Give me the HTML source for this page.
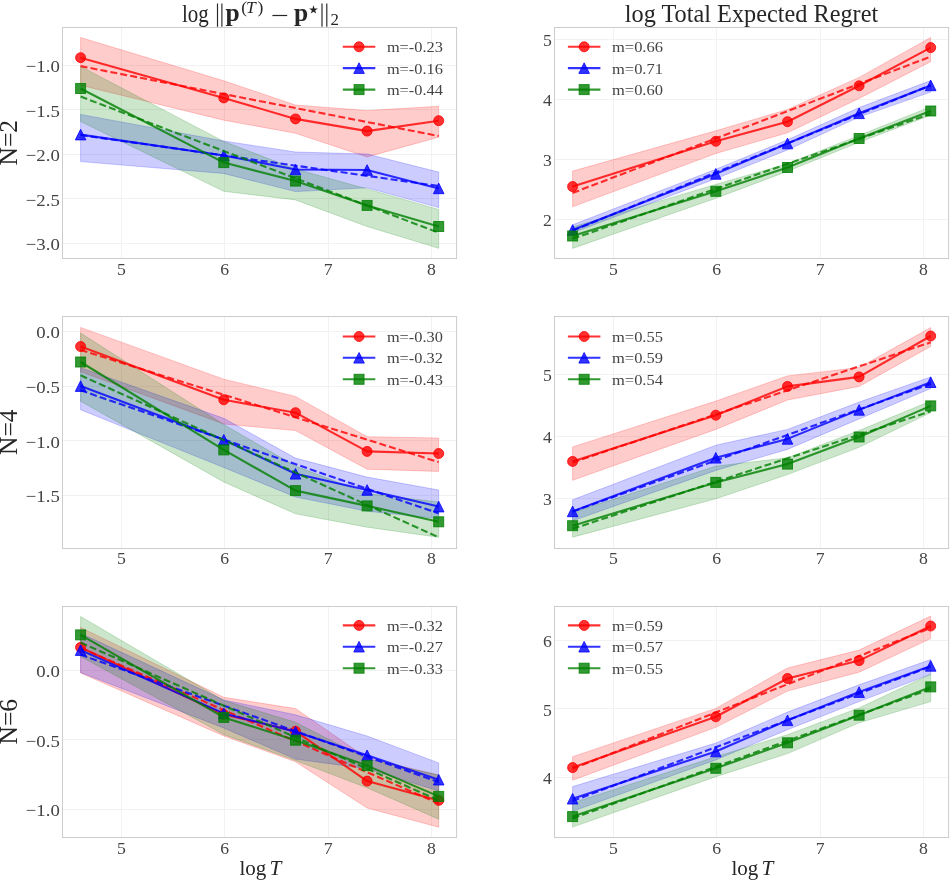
<!DOCTYPE html><html><head><meta charset="utf-8"><style>html,body{margin:0;padding:0;background:#fff;}svg{display:block;will-change:transform;}text{font-family:"Liberation Serif", serif;fill:#262626;}</style></head><body>
<svg width="952" height="880" viewBox="0 0 952 880">
<rect width="952" height="880" fill="#fff"/>
<line x1="121.5" y1="27.5" x2="121.5" y2="258.5" stroke="#f2f2f2" stroke-width="1"/>
<line x1="224.5" y1="27.5" x2="224.5" y2="258.5" stroke="#f2f2f2" stroke-width="1"/>
<line x1="328.5" y1="27.5" x2="328.5" y2="258.5" stroke="#f2f2f2" stroke-width="1"/>
<line x1="431.5" y1="27.5" x2="431.5" y2="258.5" stroke="#f2f2f2" stroke-width="1"/>
<line x1="62.5" y1="65.5" x2="456.6" y2="65.5" stroke="#f2f2f2" stroke-width="1"/>
<line x1="62.5" y1="109.5" x2="456.6" y2="109.5" stroke="#f2f2f2" stroke-width="1"/>
<line x1="62.5" y1="154.5" x2="456.6" y2="154.5" stroke="#f2f2f2" stroke-width="1"/>
<line x1="62.5" y1="198.5" x2="456.6" y2="198.5" stroke="#f2f2f2" stroke-width="1"/>
<line x1="62.5" y1="243.5" x2="456.6" y2="243.5" stroke="#f2f2f2" stroke-width="1"/>
<clipPath id="clip00"><rect x="62.5" y="27.5" width="394.1" height="231.0"/></clipPath>
<g clip-path="url(#clip00)">
<polygon points="80.60,37.50 223.80,80.80 295.50,105.00 367.10,110.50 438.70,106.30 438.70,137.20 367.10,156.90 295.50,133.30 223.80,120.20 80.60,85.30" fill="#ff0000" fill-opacity="0.2" stroke="#ff0000" stroke-opacity="0.2" stroke-width="1"/>
<polygon points="80.60,114.40 223.80,141.00 295.50,152.00 367.10,154.00 438.70,172.10 438.70,207.60 367.10,187.80 295.50,191.60 223.80,173.50 80.60,161.60" fill="#0000ff" fill-opacity="0.2" stroke="#0000ff" stroke-opacity="0.2" stroke-width="1"/>
<polygon points="80.60,66.40 223.80,141.50 295.50,169.00 367.10,188.90 438.70,209.40 438.70,248.30 367.10,226.50 295.50,199.90 223.80,191.30 80.60,121.50" fill="#008000" fill-opacity="0.2" stroke="#008000" stroke-opacity="0.2" stroke-width="1"/>
<polyline points="80.60,57.70 223.80,97.90 295.50,118.90 367.10,131.10 438.70,120.70" fill="none" stroke="#ff0000" stroke-opacity="0.8" stroke-width="2.1" stroke-linejoin="round"/>
<circle cx="80.60" cy="57.70" r="5.00" fill="#ff0000" fill-opacity="0.8" stroke="#ff0000" stroke-opacity="0.8" stroke-width="1.0"/>
<circle cx="223.80" cy="97.90" r="5.00" fill="#ff0000" fill-opacity="0.8" stroke="#ff0000" stroke-opacity="0.8" stroke-width="1.0"/>
<circle cx="295.50" cy="118.90" r="5.00" fill="#ff0000" fill-opacity="0.8" stroke="#ff0000" stroke-opacity="0.8" stroke-width="1.0"/>
<circle cx="367.10" cy="131.10" r="5.00" fill="#ff0000" fill-opacity="0.8" stroke="#ff0000" stroke-opacity="0.8" stroke-width="1.0"/>
<circle cx="438.70" cy="120.70" r="5.00" fill="#ff0000" fill-opacity="0.8" stroke="#ff0000" stroke-opacity="0.8" stroke-width="1.0"/>
<line x1="80.60" y1="66.14" x2="438.70" y2="135.99" stroke="#ff0000" stroke-opacity="0.8" stroke-width="2.1" stroke-dasharray="7.0 3.1"/>
<polyline points="80.60,134.60 223.80,155.50 295.50,169.50 367.10,170.00 438.70,188.40" fill="none" stroke="#0000ff" stroke-opacity="0.8" stroke-width="2.1" stroke-linejoin="round"/>
<polygon points="80.60,129.30 75.30,139.90 85.90,139.90" fill="#0000ff" fill-opacity="0.8" stroke="#0000ff" stroke-opacity="0.8" stroke-width="1.0" stroke-linejoin="miter"/>
<polygon points="223.80,150.20 218.50,160.80 229.10,160.80" fill="#0000ff" fill-opacity="0.8" stroke="#0000ff" stroke-opacity="0.8" stroke-width="1.0" stroke-linejoin="miter"/>
<polygon points="295.50,164.20 290.20,174.80 300.80,174.80" fill="#0000ff" fill-opacity="0.8" stroke="#0000ff" stroke-opacity="0.8" stroke-width="1.0" stroke-linejoin="miter"/>
<polygon points="367.10,164.70 361.80,175.30 372.40,175.30" fill="#0000ff" fill-opacity="0.8" stroke="#0000ff" stroke-opacity="0.8" stroke-width="1.0" stroke-linejoin="miter"/>
<polygon points="438.70,183.10 433.40,193.70 444.00,193.70" fill="#0000ff" fill-opacity="0.8" stroke="#0000ff" stroke-opacity="0.8" stroke-width="1.0" stroke-linejoin="miter"/>
<line x1="80.60" y1="135.01" x2="438.70" y2="186.06" stroke="#0000ff" stroke-opacity="0.8" stroke-width="2.1" stroke-dasharray="7.0 3.1"/>
<polyline points="80.60,88.50 223.80,162.60 295.50,181.10 367.10,205.40 438.70,226.50" fill="none" stroke="#008000" stroke-opacity="0.8" stroke-width="2.1" stroke-linejoin="round"/>
<rect x="75.60" y="83.50" width="10.00" height="10.00" fill="#008000" fill-opacity="0.8" stroke="#008000" stroke-opacity="0.8" stroke-width="1.0"/>
<rect x="218.80" y="157.60" width="10.00" height="10.00" fill="#008000" fill-opacity="0.8" stroke="#008000" stroke-opacity="0.8" stroke-width="1.0"/>
<rect x="290.50" y="176.10" width="10.00" height="10.00" fill="#008000" fill-opacity="0.8" stroke="#008000" stroke-opacity="0.8" stroke-width="1.0"/>
<rect x="362.10" y="200.40" width="10.00" height="10.00" fill="#008000" fill-opacity="0.8" stroke="#008000" stroke-opacity="0.8" stroke-width="1.0"/>
<rect x="433.70" y="221.50" width="10.00" height="10.00" fill="#008000" fill-opacity="0.8" stroke="#008000" stroke-opacity="0.8" stroke-width="1.0"/>
<line x1="80.60" y1="96.56" x2="438.70" y2="232.74" stroke="#008000" stroke-opacity="0.8" stroke-width="2.1" stroke-dasharray="7.0 3.1"/>
</g>
<rect x="62.5" y="27.5" width="394.1" height="231.0" fill="none" stroke="#cccccc" stroke-width="1"/>
<text x="121.40" y="274.80" font-size="17.7" text-anchor="middle" fill="#444444" style="fill:#444444">5</text>
<text x="224.70" y="274.80" font-size="17.7" text-anchor="middle" fill="#444444" style="fill:#444444">6</text>
<text x="328.10" y="274.80" font-size="17.7" text-anchor="middle" fill="#444444" style="fill:#444444">7</text>
<text x="431.40" y="274.80" font-size="17.7" text-anchor="middle" fill="#444444" style="fill:#444444">8</text>
<text x="59.80" y="72.15" font-size="17.7" text-anchor="end" style="fill:#444444"  textLength="34.03" lengthAdjust="spacingAndGlyphs">−1.0</text>
<text x="59.80" y="116.65" font-size="17.7" text-anchor="end" style="fill:#444444"  textLength="34.03" lengthAdjust="spacingAndGlyphs">−1.5</text>
<text x="59.80" y="161.15" font-size="17.7" text-anchor="end" style="fill:#444444"  textLength="34.03" lengthAdjust="spacingAndGlyphs">−2.0</text>
<text x="59.80" y="205.65" font-size="17.7" text-anchor="end" style="fill:#444444"  textLength="34.03" lengthAdjust="spacingAndGlyphs">−2.5</text>
<text x="59.80" y="250.15" font-size="17.7" text-anchor="end" style="fill:#444444"  textLength="34.03" lengthAdjust="spacingAndGlyphs">−3.0</text>
<line x1="342.80" y1="46.80" x2="375.30" y2="46.80" stroke="#ff0000" stroke-opacity="0.8" stroke-width="2.1"/>
<circle cx="359.05" cy="46.80" r="5.00" fill="#ff0000" fill-opacity="0.8" stroke="#ff0000" stroke-opacity="0.8" stroke-width="1.0"/>
<text x="386.90" y="52.30" font-size="15" style="fill:#444444" textLength="56.0" lengthAdjust="spacingAndGlyphs">m=-0.23</text>
<line x1="342.80" y1="68.10" x2="375.30" y2="68.10" stroke="#0000ff" stroke-opacity="0.8" stroke-width="2.1"/>
<polygon points="359.05,62.80 353.75,73.40 364.35,73.40" fill="#0000ff" fill-opacity="0.8" stroke="#0000ff" stroke-opacity="0.8" stroke-width="1.0" stroke-linejoin="miter"/>
<text x="386.90" y="73.60" font-size="15" style="fill:#444444" textLength="56.0" lengthAdjust="spacingAndGlyphs">m=-0.16</text>
<line x1="342.80" y1="89.60" x2="375.30" y2="89.60" stroke="#008000" stroke-opacity="0.8" stroke-width="2.1"/>
<rect x="354.05" y="84.60" width="10.00" height="10.00" fill="#008000" fill-opacity="0.8" stroke="#008000" stroke-opacity="0.8" stroke-width="1.0"/>
<text x="386.90" y="95.10" font-size="15" style="fill:#444444" textLength="56.0" lengthAdjust="spacingAndGlyphs">m=-0.44</text>
<line x1="613.5" y1="27.5" x2="613.5" y2="258.5" stroke="#f2f2f2" stroke-width="1"/>
<line x1="716.5" y1="27.5" x2="716.5" y2="258.5" stroke="#f2f2f2" stroke-width="1"/>
<line x1="820.5" y1="27.5" x2="820.5" y2="258.5" stroke="#f2f2f2" stroke-width="1"/>
<line x1="923.5" y1="27.5" x2="923.5" y2="258.5" stroke="#f2f2f2" stroke-width="1"/>
<line x1="554.5" y1="219.5" x2="948.6" y2="219.5" stroke="#f2f2f2" stroke-width="1"/>
<line x1="554.5" y1="159.5" x2="948.6" y2="159.5" stroke="#f2f2f2" stroke-width="1"/>
<line x1="554.5" y1="99.5" x2="948.6" y2="99.5" stroke="#f2f2f2" stroke-width="1"/>
<line x1="554.5" y1="39.5" x2="948.6" y2="39.5" stroke="#f2f2f2" stroke-width="1"/>
<clipPath id="clip01"><rect x="554.5" y="27.5" width="394.1" height="231.0"/></clipPath>
<g clip-path="url(#clip01)">
<polygon points="572.60,171.10 715.80,130.80 787.50,109.50 859.10,77.40 930.70,37.50 930.70,61.70 859.10,98.40 787.50,132.80 715.80,153.50 572.60,206.80" fill="#ff0000" fill-opacity="0.2" stroke="#ff0000" stroke-opacity="0.2" stroke-width="1"/>
<polygon points="572.60,224.80 715.80,169.30 787.50,139.80 859.10,107.60 930.70,80.60 930.70,92.10 859.10,117.10 787.50,149.90 715.80,178.70 572.60,232.80" fill="#0000ff" fill-opacity="0.2" stroke="#0000ff" stroke-opacity="0.2" stroke-width="1"/>
<polygon points="572.60,227.00 715.80,184.40 787.50,163.70 859.10,135.40 930.70,106.80 930.70,115.20 859.10,142.30 787.50,171.30 715.80,198.30 572.60,248.40" fill="#008000" fill-opacity="0.2" stroke="#008000" stroke-opacity="0.2" stroke-width="1"/>
<polyline points="572.60,186.60 715.80,141.30 787.50,121.70 859.10,85.80 930.70,47.60" fill="none" stroke="#ff0000" stroke-opacity="0.8" stroke-width="2.1" stroke-linejoin="round"/>
<circle cx="572.60" cy="186.60" r="5.00" fill="#ff0000" fill-opacity="0.8" stroke="#ff0000" stroke-opacity="0.8" stroke-width="1.0"/>
<circle cx="715.80" cy="141.30" r="5.00" fill="#ff0000" fill-opacity="0.8" stroke="#ff0000" stroke-opacity="0.8" stroke-width="1.0"/>
<circle cx="787.50" cy="121.70" r="5.00" fill="#ff0000" fill-opacity="0.8" stroke="#ff0000" stroke-opacity="0.8" stroke-width="1.0"/>
<circle cx="859.10" cy="85.80" r="5.00" fill="#ff0000" fill-opacity="0.8" stroke="#ff0000" stroke-opacity="0.8" stroke-width="1.0"/>
<circle cx="930.70" cy="47.60" r="5.00" fill="#ff0000" fill-opacity="0.8" stroke="#ff0000" stroke-opacity="0.8" stroke-width="1.0"/>
<line x1="572.60" y1="192.93" x2="930.70" y2="56.63" stroke="#ff0000" stroke-opacity="0.8" stroke-width="2.1" stroke-dasharray="7.0 3.1"/>
<polyline points="572.60,230.00 715.80,173.90 787.50,143.50 859.10,113.30 930.70,85.40" fill="none" stroke="#0000ff" stroke-opacity="0.8" stroke-width="2.1" stroke-linejoin="round"/>
<polygon points="572.60,224.70 567.30,235.30 577.90,235.30" fill="#0000ff" fill-opacity="0.8" stroke="#0000ff" stroke-opacity="0.8" stroke-width="1.0" stroke-linejoin="miter"/>
<polygon points="715.80,168.60 710.50,179.20 721.10,179.20" fill="#0000ff" fill-opacity="0.8" stroke="#0000ff" stroke-opacity="0.8" stroke-width="1.0" stroke-linejoin="miter"/>
<polygon points="787.50,138.20 782.20,148.80 792.80,148.80" fill="#0000ff" fill-opacity="0.8" stroke="#0000ff" stroke-opacity="0.8" stroke-width="1.0" stroke-linejoin="miter"/>
<polygon points="859.10,108.00 853.80,118.60 864.40,118.60" fill="#0000ff" fill-opacity="0.8" stroke="#0000ff" stroke-opacity="0.8" stroke-width="1.0" stroke-linejoin="miter"/>
<polygon points="930.70,80.10 925.40,90.70 936.00,90.70" fill="#0000ff" fill-opacity="0.8" stroke="#0000ff" stroke-opacity="0.8" stroke-width="1.0" stroke-linejoin="miter"/>
<line x1="572.60" y1="230.68" x2="930.70" y2="85.22" stroke="#0000ff" stroke-opacity="0.8" stroke-width="2.1" stroke-dasharray="7.0 3.1"/>
<polyline points="572.60,236.00 715.80,191.30 787.50,167.50 859.10,138.50 930.70,111.00" fill="none" stroke="#008000" stroke-opacity="0.8" stroke-width="2.1" stroke-linejoin="round"/>
<rect x="567.60" y="231.00" width="10.00" height="10.00" fill="#008000" fill-opacity="0.8" stroke="#008000" stroke-opacity="0.8" stroke-width="1.0"/>
<rect x="710.80" y="186.30" width="10.00" height="10.00" fill="#008000" fill-opacity="0.8" stroke="#008000" stroke-opacity="0.8" stroke-width="1.0"/>
<rect x="782.50" y="162.50" width="10.00" height="10.00" fill="#008000" fill-opacity="0.8" stroke="#008000" stroke-opacity="0.8" stroke-width="1.0"/>
<rect x="854.10" y="133.50" width="10.00" height="10.00" fill="#008000" fill-opacity="0.8" stroke="#008000" stroke-opacity="0.8" stroke-width="1.0"/>
<rect x="925.70" y="106.00" width="10.00" height="10.00" fill="#008000" fill-opacity="0.8" stroke="#008000" stroke-opacity="0.8" stroke-width="1.0"/>
<line x1="572.60" y1="238.85" x2="930.70" y2="113.87" stroke="#008000" stroke-opacity="0.8" stroke-width="2.1" stroke-dasharray="7.0 3.1"/>
</g>
<rect x="554.5" y="27.5" width="394.1" height="231.0" fill="none" stroke="#cccccc" stroke-width="1"/>
<text x="613.40" y="274.80" font-size="17.7" text-anchor="middle" fill="#444444" style="fill:#444444">5</text>
<text x="716.70" y="274.80" font-size="17.7" text-anchor="middle" fill="#444444" style="fill:#444444">6</text>
<text x="820.10" y="274.80" font-size="17.7" text-anchor="middle" fill="#444444" style="fill:#444444">7</text>
<text x="923.40" y="274.80" font-size="17.7" text-anchor="middle" fill="#444444" style="fill:#444444">8</text>
<text x="551.80" y="226.00" font-size="17.7" text-anchor="end" style="fill:#444444" >2</text>
<text x="551.80" y="166.00" font-size="17.7" text-anchor="end" style="fill:#444444" >3</text>
<text x="551.80" y="106.00" font-size="17.7" text-anchor="end" style="fill:#444444" >4</text>
<text x="551.80" y="46.00" font-size="17.7" text-anchor="end" style="fill:#444444" >5</text>
<line x1="567.90" y1="46.80" x2="600.40" y2="46.80" stroke="#ff0000" stroke-opacity="0.8" stroke-width="2.1"/>
<circle cx="584.15" cy="46.80" r="5.00" fill="#ff0000" fill-opacity="0.8" stroke="#ff0000" stroke-opacity="0.8" stroke-width="1.0"/>
<text x="612.00" y="52.30" font-size="15" style="fill:#444444" textLength="51.0" lengthAdjust="spacingAndGlyphs">m=0.66</text>
<line x1="567.90" y1="68.10" x2="600.40" y2="68.10" stroke="#0000ff" stroke-opacity="0.8" stroke-width="2.1"/>
<polygon points="584.15,62.80 578.85,73.40 589.45,73.40" fill="#0000ff" fill-opacity="0.8" stroke="#0000ff" stroke-opacity="0.8" stroke-width="1.0" stroke-linejoin="miter"/>
<text x="612.00" y="73.60" font-size="15" style="fill:#444444" textLength="51.0" lengthAdjust="spacingAndGlyphs">m=0.71</text>
<line x1="567.90" y1="89.60" x2="600.40" y2="89.60" stroke="#008000" stroke-opacity="0.8" stroke-width="2.1"/>
<rect x="579.15" y="84.60" width="10.00" height="10.00" fill="#008000" fill-opacity="0.8" stroke="#008000" stroke-opacity="0.8" stroke-width="1.0"/>
<text x="612.00" y="95.10" font-size="15" style="fill:#444444" textLength="51.0" lengthAdjust="spacingAndGlyphs">m=0.60</text>
<line x1="121.5" y1="316.5" x2="121.5" y2="548.5" stroke="#f2f2f2" stroke-width="1"/>
<line x1="224.5" y1="316.5" x2="224.5" y2="548.5" stroke="#f2f2f2" stroke-width="1"/>
<line x1="328.5" y1="316.5" x2="328.5" y2="548.5" stroke="#f2f2f2" stroke-width="1"/>
<line x1="431.5" y1="316.5" x2="431.5" y2="548.5" stroke="#f2f2f2" stroke-width="1"/>
<line x1="62.5" y1="331.5" x2="456.6" y2="331.5" stroke="#f2f2f2" stroke-width="1"/>
<line x1="62.5" y1="386.5" x2="456.6" y2="386.5" stroke="#f2f2f2" stroke-width="1"/>
<line x1="62.5" y1="440.5" x2="456.6" y2="440.5" stroke="#f2f2f2" stroke-width="1"/>
<line x1="62.5" y1="495.5" x2="456.6" y2="495.5" stroke="#f2f2f2" stroke-width="1"/>
<clipPath id="clip10"><rect x="62.5" y="316.5" width="394.1" height="232.0"/></clipPath>
<g clip-path="url(#clip10)">
<polygon points="80.60,327.40 223.80,379.20 295.50,396.40 367.10,436.70 438.70,438.00 438.70,471.40 367.10,469.20 295.50,430.60 223.80,424.00 80.60,371.70" fill="#ff0000" fill-opacity="0.2" stroke="#ff0000" stroke-opacity="0.2" stroke-width="1"/>
<polygon points="80.60,367.70 223.80,418.30 295.50,458.10 367.10,477.10 438.70,490.00 438.70,518.60 367.10,511.20 295.50,497.00 223.80,467.50 80.60,409.80" fill="#0000ff" fill-opacity="0.2" stroke="#0000ff" stroke-opacity="0.2" stroke-width="1"/>
<polygon points="80.60,333.00 223.80,424.50 295.50,466.00 367.10,493.60 438.70,502.00 438.70,537.30 367.10,527.20 295.50,513.80 223.80,482.00 80.60,401.20" fill="#008000" fill-opacity="0.2" stroke="#008000" stroke-opacity="0.2" stroke-width="1"/>
<polyline points="80.60,346.50 223.80,399.80 295.50,412.70 367.10,451.40 438.70,453.50" fill="none" stroke="#ff0000" stroke-opacity="0.8" stroke-width="2.1" stroke-linejoin="round"/>
<circle cx="80.60" cy="346.50" r="5.00" fill="#ff0000" fill-opacity="0.8" stroke="#ff0000" stroke-opacity="0.8" stroke-width="1.0"/>
<circle cx="223.80" cy="399.80" r="5.00" fill="#ff0000" fill-opacity="0.8" stroke="#ff0000" stroke-opacity="0.8" stroke-width="1.0"/>
<circle cx="295.50" cy="412.70" r="5.00" fill="#ff0000" fill-opacity="0.8" stroke="#ff0000" stroke-opacity="0.8" stroke-width="1.0"/>
<circle cx="367.10" cy="451.40" r="5.00" fill="#ff0000" fill-opacity="0.8" stroke="#ff0000" stroke-opacity="0.8" stroke-width="1.0"/>
<circle cx="438.70" cy="453.50" r="5.00" fill="#ff0000" fill-opacity="0.8" stroke="#ff0000" stroke-opacity="0.8" stroke-width="1.0"/>
<line x1="80.60" y1="349.99" x2="438.70" y2="462.11" stroke="#ff0000" stroke-opacity="0.8" stroke-width="2.1" stroke-dasharray="7.0 3.1"/>
<polyline points="80.60,386.10 223.80,439.80 295.50,473.80 367.10,490.00 438.70,506.60" fill="none" stroke="#0000ff" stroke-opacity="0.8" stroke-width="2.1" stroke-linejoin="round"/>
<polygon points="80.60,380.80 75.30,391.40 85.90,391.40" fill="#0000ff" fill-opacity="0.8" stroke="#0000ff" stroke-opacity="0.8" stroke-width="1.0" stroke-linejoin="miter"/>
<polygon points="223.80,434.50 218.50,445.10 229.10,445.10" fill="#0000ff" fill-opacity="0.8" stroke="#0000ff" stroke-opacity="0.8" stroke-width="1.0" stroke-linejoin="miter"/>
<polygon points="295.50,468.50 290.20,479.10 300.80,479.10" fill="#0000ff" fill-opacity="0.8" stroke="#0000ff" stroke-opacity="0.8" stroke-width="1.0" stroke-linejoin="miter"/>
<polygon points="367.10,484.70 361.80,495.30 372.40,495.30" fill="#0000ff" fill-opacity="0.8" stroke="#0000ff" stroke-opacity="0.8" stroke-width="1.0" stroke-linejoin="miter"/>
<polygon points="438.70,501.30 433.40,511.90 444.00,511.90" fill="#0000ff" fill-opacity="0.8" stroke="#0000ff" stroke-opacity="0.8" stroke-width="1.0" stroke-linejoin="miter"/>
<line x1="80.60" y1="390.33" x2="438.70" y2="513.42" stroke="#0000ff" stroke-opacity="0.8" stroke-width="2.1" stroke-dasharray="7.0 3.1"/>
<polyline points="80.60,362.00 223.80,449.90 295.50,490.60 367.10,505.90 438.70,521.80" fill="none" stroke="#008000" stroke-opacity="0.8" stroke-width="2.1" stroke-linejoin="round"/>
<rect x="75.60" y="357.00" width="10.00" height="10.00" fill="#008000" fill-opacity="0.8" stroke="#008000" stroke-opacity="0.8" stroke-width="1.0"/>
<rect x="218.80" y="444.90" width="10.00" height="10.00" fill="#008000" fill-opacity="0.8" stroke="#008000" stroke-opacity="0.8" stroke-width="1.0"/>
<rect x="290.50" y="485.60" width="10.00" height="10.00" fill="#008000" fill-opacity="0.8" stroke="#008000" stroke-opacity="0.8" stroke-width="1.0"/>
<rect x="362.10" y="500.90" width="10.00" height="10.00" fill="#008000" fill-opacity="0.8" stroke="#008000" stroke-opacity="0.8" stroke-width="1.0"/>
<rect x="433.70" y="516.80" width="10.00" height="10.00" fill="#008000" fill-opacity="0.8" stroke="#008000" stroke-opacity="0.8" stroke-width="1.0"/>
<line x1="80.60" y1="375.30" x2="438.70" y2="537.33" stroke="#008000" stroke-opacity="0.8" stroke-width="2.1" stroke-dasharray="7.0 3.1"/>
</g>
<rect x="62.5" y="316.5" width="394.1" height="232.0" fill="none" stroke="#cccccc" stroke-width="1"/>
<text x="121.40" y="563.80" font-size="17.7" text-anchor="middle" fill="#444444" style="fill:#444444">5</text>
<text x="224.70" y="563.80" font-size="17.7" text-anchor="middle" fill="#444444" style="fill:#444444">6</text>
<text x="328.10" y="563.80" font-size="17.7" text-anchor="middle" fill="#444444" style="fill:#444444">7</text>
<text x="431.40" y="563.80" font-size="17.7" text-anchor="middle" fill="#444444" style="fill:#444444">8</text>
<text x="59.80" y="338.20" font-size="17.7" text-anchor="end" style="fill:#444444"  textLength="23.45" lengthAdjust="spacingAndGlyphs">0.0</text>
<text x="59.80" y="392.85" font-size="17.7" text-anchor="end" style="fill:#444444"  textLength="34.03" lengthAdjust="spacingAndGlyphs">−0.5</text>
<text x="59.80" y="447.50" font-size="17.7" text-anchor="end" style="fill:#444444"  textLength="34.03" lengthAdjust="spacingAndGlyphs">−1.0</text>
<text x="59.80" y="502.15" font-size="17.7" text-anchor="end" style="fill:#444444"  textLength="34.03" lengthAdjust="spacingAndGlyphs">−1.5</text>
<line x1="342.80" y1="336.50" x2="375.30" y2="336.50" stroke="#ff0000" stroke-opacity="0.8" stroke-width="2.1"/>
<circle cx="359.05" cy="336.50" r="5.00" fill="#ff0000" fill-opacity="0.8" stroke="#ff0000" stroke-opacity="0.8" stroke-width="1.0"/>
<text x="386.90" y="342.00" font-size="15" style="fill:#444444" textLength="56.0" lengthAdjust="spacingAndGlyphs">m=-0.30</text>
<line x1="342.80" y1="357.80" x2="375.30" y2="357.80" stroke="#0000ff" stroke-opacity="0.8" stroke-width="2.1"/>
<polygon points="359.05,352.50 353.75,363.10 364.35,363.10" fill="#0000ff" fill-opacity="0.8" stroke="#0000ff" stroke-opacity="0.8" stroke-width="1.0" stroke-linejoin="miter"/>
<text x="386.90" y="363.30" font-size="15" style="fill:#444444" textLength="56.0" lengthAdjust="spacingAndGlyphs">m=-0.32</text>
<line x1="342.80" y1="379.30" x2="375.30" y2="379.30" stroke="#008000" stroke-opacity="0.8" stroke-width="2.1"/>
<rect x="354.05" y="374.30" width="10.00" height="10.00" fill="#008000" fill-opacity="0.8" stroke="#008000" stroke-opacity="0.8" stroke-width="1.0"/>
<text x="386.90" y="384.80" font-size="15" style="fill:#444444" textLength="56.0" lengthAdjust="spacingAndGlyphs">m=-0.43</text>
<line x1="613.5" y1="316.5" x2="613.5" y2="548.5" stroke="#f2f2f2" stroke-width="1"/>
<line x1="716.5" y1="316.5" x2="716.5" y2="548.5" stroke="#f2f2f2" stroke-width="1"/>
<line x1="820.5" y1="316.5" x2="820.5" y2="548.5" stroke="#f2f2f2" stroke-width="1"/>
<line x1="923.5" y1="316.5" x2="923.5" y2="548.5" stroke="#f2f2f2" stroke-width="1"/>
<line x1="554.5" y1="498.5" x2="948.6" y2="498.5" stroke="#f2f2f2" stroke-width="1"/>
<line x1="554.5" y1="436.5" x2="948.6" y2="436.5" stroke="#f2f2f2" stroke-width="1"/>
<line x1="554.5" y1="374.5" x2="948.6" y2="374.5" stroke="#f2f2f2" stroke-width="1"/>
<clipPath id="clip11"><rect x="554.5" y="316.5" width="394.1" height="232.0"/></clipPath>
<g clip-path="url(#clip11)">
<polygon points="572.60,446.90 715.80,401.10 787.50,375.90 859.10,367.50 930.70,327.60 930.70,346.50 859.10,386.40 787.50,400.00 715.80,429.40 572.60,480.30" fill="#ff0000" fill-opacity="0.2" stroke="#ff0000" stroke-opacity="0.2" stroke-width="1"/>
<polygon points="572.60,499.80 715.80,445.20 787.50,429.40 859.10,402.10 930.70,376.90 930.70,388.50 859.10,418.90 787.50,449.40 715.80,470.40 572.60,520.80" fill="#0000ff" fill-opacity="0.2" stroke="#0000ff" stroke-opacity="0.2" stroke-width="1"/>
<polygon points="572.60,512.40 715.80,466.20 787.50,457.80 859.10,430.50 930.70,401.10 930.70,412.60 859.10,447.30 787.50,474.60 715.80,498.80 572.60,537.20" fill="#008000" fill-opacity="0.2" stroke="#008000" stroke-opacity="0.2" stroke-width="1"/>
<polyline points="572.60,461.40 715.80,415.20 787.50,386.40 859.10,376.90 930.70,336.00" fill="none" stroke="#ff0000" stroke-opacity="0.8" stroke-width="2.1" stroke-linejoin="round"/>
<circle cx="572.60" cy="461.40" r="5.00" fill="#ff0000" fill-opacity="0.8" stroke="#ff0000" stroke-opacity="0.8" stroke-width="1.0"/>
<circle cx="715.80" cy="415.20" r="5.00" fill="#ff0000" fill-opacity="0.8" stroke="#ff0000" stroke-opacity="0.8" stroke-width="1.0"/>
<circle cx="787.50" cy="386.40" r="5.00" fill="#ff0000" fill-opacity="0.8" stroke="#ff0000" stroke-opacity="0.8" stroke-width="1.0"/>
<circle cx="859.10" cy="376.90" r="5.00" fill="#ff0000" fill-opacity="0.8" stroke="#ff0000" stroke-opacity="0.8" stroke-width="1.0"/>
<circle cx="930.70" cy="336.00" r="5.00" fill="#ff0000" fill-opacity="0.8" stroke="#ff0000" stroke-opacity="0.8" stroke-width="1.0"/>
<line x1="572.60" y1="462.40" x2="930.70" y2="342.37" stroke="#ff0000" stroke-opacity="0.8" stroke-width="2.1" stroke-dasharray="7.0 3.1"/>
<polyline points="572.60,511.40 715.80,457.80 787.50,438.90 859.10,409.90 930.70,382.20" fill="none" stroke="#0000ff" stroke-opacity="0.8" stroke-width="2.1" stroke-linejoin="round"/>
<polygon points="572.60,506.10 567.30,516.70 577.90,516.70" fill="#0000ff" fill-opacity="0.8" stroke="#0000ff" stroke-opacity="0.8" stroke-width="1.0" stroke-linejoin="miter"/>
<polygon points="715.80,452.50 710.50,463.10 721.10,463.10" fill="#0000ff" fill-opacity="0.8" stroke="#0000ff" stroke-opacity="0.8" stroke-width="1.0" stroke-linejoin="miter"/>
<polygon points="787.50,433.60 782.20,444.20 792.80,444.20" fill="#0000ff" fill-opacity="0.8" stroke="#0000ff" stroke-opacity="0.8" stroke-width="1.0" stroke-linejoin="miter"/>
<polygon points="859.10,404.60 853.80,415.20 864.40,415.20" fill="#0000ff" fill-opacity="0.8" stroke="#0000ff" stroke-opacity="0.8" stroke-width="1.0" stroke-linejoin="miter"/>
<polygon points="930.70,376.90 925.40,387.50 936.00,387.50" fill="#0000ff" fill-opacity="0.8" stroke="#0000ff" stroke-opacity="0.8" stroke-width="1.0" stroke-linejoin="miter"/>
<line x1="572.60" y1="511.49" x2="930.70" y2="383.91" stroke="#0000ff" stroke-opacity="0.8" stroke-width="2.1" stroke-dasharray="7.0 3.1"/>
<polyline points="572.60,525.70 715.80,482.40 787.50,464.10 859.10,437.00 930.70,405.90" fill="none" stroke="#008000" stroke-opacity="0.8" stroke-width="2.1" stroke-linejoin="round"/>
<rect x="567.60" y="520.70" width="10.00" height="10.00" fill="#008000" fill-opacity="0.8" stroke="#008000" stroke-opacity="0.8" stroke-width="1.0"/>
<rect x="710.80" y="477.40" width="10.00" height="10.00" fill="#008000" fill-opacity="0.8" stroke="#008000" stroke-opacity="0.8" stroke-width="1.0"/>
<rect x="782.50" y="459.10" width="10.00" height="10.00" fill="#008000" fill-opacity="0.8" stroke="#008000" stroke-opacity="0.8" stroke-width="1.0"/>
<rect x="854.10" y="432.00" width="10.00" height="10.00" fill="#008000" fill-opacity="0.8" stroke="#008000" stroke-opacity="0.8" stroke-width="1.0"/>
<rect x="925.70" y="400.90" width="10.00" height="10.00" fill="#008000" fill-opacity="0.8" stroke="#008000" stroke-opacity="0.8" stroke-width="1.0"/>
<line x1="572.60" y1="528.79" x2="930.70" y2="411.34" stroke="#008000" stroke-opacity="0.8" stroke-width="2.1" stroke-dasharray="7.0 3.1"/>
</g>
<rect x="554.5" y="316.5" width="394.1" height="232.0" fill="none" stroke="#cccccc" stroke-width="1"/>
<text x="613.40" y="563.80" font-size="17.7" text-anchor="middle" fill="#444444" style="fill:#444444">5</text>
<text x="716.70" y="563.80" font-size="17.7" text-anchor="middle" fill="#444444" style="fill:#444444">6</text>
<text x="820.10" y="563.80" font-size="17.7" text-anchor="middle" fill="#444444" style="fill:#444444">7</text>
<text x="923.40" y="563.80" font-size="17.7" text-anchor="middle" fill="#444444" style="fill:#444444">8</text>
<text x="551.80" y="505.30" font-size="17.7" text-anchor="end" style="fill:#444444" >3</text>
<text x="551.80" y="443.15" font-size="17.7" text-anchor="end" style="fill:#444444" >4</text>
<text x="551.80" y="381.00" font-size="17.7" text-anchor="end" style="fill:#444444" >5</text>
<line x1="567.90" y1="336.50" x2="600.40" y2="336.50" stroke="#ff0000" stroke-opacity="0.8" stroke-width="2.1"/>
<circle cx="584.15" cy="336.50" r="5.00" fill="#ff0000" fill-opacity="0.8" stroke="#ff0000" stroke-opacity="0.8" stroke-width="1.0"/>
<text x="612.00" y="342.00" font-size="15" style="fill:#444444" textLength="51.0" lengthAdjust="spacingAndGlyphs">m=0.55</text>
<line x1="567.90" y1="357.80" x2="600.40" y2="357.80" stroke="#0000ff" stroke-opacity="0.8" stroke-width="2.1"/>
<polygon points="584.15,352.50 578.85,363.10 589.45,363.10" fill="#0000ff" fill-opacity="0.8" stroke="#0000ff" stroke-opacity="0.8" stroke-width="1.0" stroke-linejoin="miter"/>
<text x="612.00" y="363.30" font-size="15" style="fill:#444444" textLength="51.0" lengthAdjust="spacingAndGlyphs">m=0.59</text>
<line x1="567.90" y1="379.30" x2="600.40" y2="379.30" stroke="#008000" stroke-opacity="0.8" stroke-width="2.1"/>
<rect x="579.15" y="374.30" width="10.00" height="10.00" fill="#008000" fill-opacity="0.8" stroke="#008000" stroke-opacity="0.8" stroke-width="1.0"/>
<text x="612.00" y="384.80" font-size="15" style="fill:#444444" textLength="51.0" lengthAdjust="spacingAndGlyphs">m=0.54</text>
<line x1="121.5" y1="606.5" x2="121.5" y2="837.5" stroke="#f2f2f2" stroke-width="1"/>
<line x1="224.5" y1="606.5" x2="224.5" y2="837.5" stroke="#f2f2f2" stroke-width="1"/>
<line x1="328.5" y1="606.5" x2="328.5" y2="837.5" stroke="#f2f2f2" stroke-width="1"/>
<line x1="431.5" y1="606.5" x2="431.5" y2="837.5" stroke="#f2f2f2" stroke-width="1"/>
<line x1="62.5" y1="670.5" x2="456.6" y2="670.5" stroke="#f2f2f2" stroke-width="1"/>
<line x1="62.5" y1="739.5" x2="456.6" y2="739.5" stroke="#f2f2f2" stroke-width="1"/>
<line x1="62.5" y1="809.5" x2="456.6" y2="809.5" stroke="#f2f2f2" stroke-width="1"/>
<clipPath id="clip20"><rect x="62.5" y="606.5" width="394.1" height="231.0"/></clipPath>
<g clip-path="url(#clip20)">
<polygon points="80.60,627.40 223.80,697.30 295.50,708.60 367.10,758.00 438.70,775.00 438.70,827.20 367.10,808.00 295.50,761.80 223.80,735.90 80.60,673.00" fill="#ff0000" fill-opacity="0.2" stroke="#ff0000" stroke-opacity="0.2" stroke-width="1"/>
<polygon points="80.60,633.30 223.80,700.00 295.50,714.80 367.10,736.00 438.70,762.90 438.70,791.00 367.10,768.70 295.50,759.10 223.80,728.00 80.60,672.50" fill="#0000ff" fill-opacity="0.2" stroke="#0000ff" stroke-opacity="0.2" stroke-width="1"/>
<polygon points="80.60,616.50 223.80,700.50 295.50,722.30 367.10,759.00 438.70,775.00 438.70,819.20 367.10,787.80 295.50,760.50 223.80,734.50 80.60,656.50" fill="#008000" fill-opacity="0.2" stroke="#008000" stroke-opacity="0.2" stroke-width="1"/>
<polyline points="80.60,647.40 223.80,714.50 295.50,731.20 367.10,781.10 438.70,800.40" fill="none" stroke="#ff0000" stroke-opacity="0.8" stroke-width="2.1" stroke-linejoin="round"/>
<circle cx="80.60" cy="647.40" r="5.00" fill="#ff0000" fill-opacity="0.8" stroke="#ff0000" stroke-opacity="0.8" stroke-width="1.0"/>
<circle cx="223.80" cy="714.50" r="5.00" fill="#ff0000" fill-opacity="0.8" stroke="#ff0000" stroke-opacity="0.8" stroke-width="1.0"/>
<circle cx="295.50" cy="731.20" r="5.00" fill="#ff0000" fill-opacity="0.8" stroke="#ff0000" stroke-opacity="0.8" stroke-width="1.0"/>
<circle cx="367.10" cy="781.10" r="5.00" fill="#ff0000" fill-opacity="0.8" stroke="#ff0000" stroke-opacity="0.8" stroke-width="1.0"/>
<circle cx="438.70" cy="800.40" r="5.00" fill="#ff0000" fill-opacity="0.8" stroke="#ff0000" stroke-opacity="0.8" stroke-width="1.0"/>
<line x1="80.60" y1="647.87" x2="438.70" y2="803.31" stroke="#ff0000" stroke-opacity="0.8" stroke-width="2.1" stroke-dasharray="7.0 3.1"/>
<polyline points="80.60,650.10 223.80,713.40 295.50,731.80 367.10,755.30 438.70,779.70" fill="none" stroke="#0000ff" stroke-opacity="0.8" stroke-width="2.1" stroke-linejoin="round"/>
<polygon points="80.60,644.80 75.30,655.40 85.90,655.40" fill="#0000ff" fill-opacity="0.8" stroke="#0000ff" stroke-opacity="0.8" stroke-width="1.0" stroke-linejoin="miter"/>
<polygon points="223.80,708.10 218.50,718.70 229.10,718.70" fill="#0000ff" fill-opacity="0.8" stroke="#0000ff" stroke-opacity="0.8" stroke-width="1.0" stroke-linejoin="miter"/>
<polygon points="295.50,726.50 290.20,737.10 300.80,737.10" fill="#0000ff" fill-opacity="0.8" stroke="#0000ff" stroke-opacity="0.8" stroke-width="1.0" stroke-linejoin="miter"/>
<polygon points="367.10,750.00 361.80,760.60 372.40,760.60" fill="#0000ff" fill-opacity="0.8" stroke="#0000ff" stroke-opacity="0.8" stroke-width="1.0" stroke-linejoin="miter"/>
<polygon points="438.70,774.40 433.40,785.00 444.00,785.00" fill="#0000ff" fill-opacity="0.8" stroke="#0000ff" stroke-opacity="0.8" stroke-width="1.0" stroke-linejoin="miter"/>
<line x1="80.60" y1="654.73" x2="438.70" y2="782.10" stroke="#0000ff" stroke-opacity="0.8" stroke-width="2.1" stroke-dasharray="7.0 3.1"/>
<polyline points="80.60,634.90 223.80,717.40 295.50,740.20 367.10,765.60 438.70,796.40" fill="none" stroke="#008000" stroke-opacity="0.8" stroke-width="2.1" stroke-linejoin="round"/>
<rect x="75.60" y="629.90" width="10.00" height="10.00" fill="#008000" fill-opacity="0.8" stroke="#008000" stroke-opacity="0.8" stroke-width="1.0"/>
<rect x="218.80" y="712.40" width="10.00" height="10.00" fill="#008000" fill-opacity="0.8" stroke="#008000" stroke-opacity="0.8" stroke-width="1.0"/>
<rect x="290.50" y="735.20" width="10.00" height="10.00" fill="#008000" fill-opacity="0.8" stroke="#008000" stroke-opacity="0.8" stroke-width="1.0"/>
<rect x="362.10" y="760.60" width="10.00" height="10.00" fill="#008000" fill-opacity="0.8" stroke="#008000" stroke-opacity="0.8" stroke-width="1.0"/>
<rect x="433.70" y="791.40" width="10.00" height="10.00" fill="#008000" fill-opacity="0.8" stroke="#008000" stroke-opacity="0.8" stroke-width="1.0"/>
<line x1="80.60" y1="642.52" x2="438.70" y2="800.34" stroke="#008000" stroke-opacity="0.8" stroke-width="2.1" stroke-dasharray="7.0 3.1"/>
</g>
<rect x="62.5" y="606.5" width="394.1" height="231.0" fill="none" stroke="#cccccc" stroke-width="1"/>
<text x="121.40" y="853.80" font-size="17.7" text-anchor="middle" fill="#444444" style="fill:#444444">5</text>
<text x="224.70" y="853.80" font-size="17.7" text-anchor="middle" fill="#444444" style="fill:#444444">6</text>
<text x="328.10" y="853.80" font-size="17.7" text-anchor="middle" fill="#444444" style="fill:#444444">7</text>
<text x="431.40" y="853.80" font-size="17.7" text-anchor="middle" fill="#444444" style="fill:#444444">8</text>
<text x="59.80" y="677.15" font-size="17.7" text-anchor="end" style="fill:#444444"  textLength="23.45" lengthAdjust="spacingAndGlyphs">0.0</text>
<text x="59.80" y="746.65" font-size="17.7" text-anchor="end" style="fill:#444444"  textLength="34.03" lengthAdjust="spacingAndGlyphs">−0.5</text>
<text x="59.80" y="816.15" font-size="17.7" text-anchor="end" style="fill:#444444"  textLength="34.03" lengthAdjust="spacingAndGlyphs">−1.0</text>
<line x1="342.80" y1="625.40" x2="375.30" y2="625.40" stroke="#ff0000" stroke-opacity="0.8" stroke-width="2.1"/>
<circle cx="359.05" cy="625.40" r="5.00" fill="#ff0000" fill-opacity="0.8" stroke="#ff0000" stroke-opacity="0.8" stroke-width="1.0"/>
<text x="386.90" y="630.90" font-size="15" style="fill:#444444" textLength="56.0" lengthAdjust="spacingAndGlyphs">m=-0.32</text>
<line x1="342.80" y1="646.70" x2="375.30" y2="646.70" stroke="#0000ff" stroke-opacity="0.8" stroke-width="2.1"/>
<polygon points="359.05,641.40 353.75,652.00 364.35,652.00" fill="#0000ff" fill-opacity="0.8" stroke="#0000ff" stroke-opacity="0.8" stroke-width="1.0" stroke-linejoin="miter"/>
<text x="386.90" y="652.20" font-size="15" style="fill:#444444" textLength="56.0" lengthAdjust="spacingAndGlyphs">m=-0.27</text>
<line x1="342.80" y1="668.20" x2="375.30" y2="668.20" stroke="#008000" stroke-opacity="0.8" stroke-width="2.1"/>
<rect x="354.05" y="663.20" width="10.00" height="10.00" fill="#008000" fill-opacity="0.8" stroke="#008000" stroke-opacity="0.8" stroke-width="1.0"/>
<text x="386.90" y="673.70" font-size="15" style="fill:#444444" textLength="56.0" lengthAdjust="spacingAndGlyphs">m=-0.33</text>
<line x1="613.5" y1="606.5" x2="613.5" y2="837.5" stroke="#f2f2f2" stroke-width="1"/>
<line x1="716.5" y1="606.5" x2="716.5" y2="837.5" stroke="#f2f2f2" stroke-width="1"/>
<line x1="820.5" y1="606.5" x2="820.5" y2="837.5" stroke="#f2f2f2" stroke-width="1"/>
<line x1="923.5" y1="606.5" x2="923.5" y2="837.5" stroke="#f2f2f2" stroke-width="1"/>
<line x1="554.5" y1="777.5" x2="948.6" y2="777.5" stroke="#f2f2f2" stroke-width="1"/>
<line x1="554.5" y1="708.5" x2="948.6" y2="708.5" stroke="#f2f2f2" stroke-width="1"/>
<line x1="554.5" y1="640.5" x2="948.6" y2="640.5" stroke="#f2f2f2" stroke-width="1"/>
<clipPath id="clip21"><rect x="554.5" y="606.5" width="394.1" height="231.0"/></clipPath>
<g clip-path="url(#clip21)">
<polygon points="572.60,756.70 715.80,708.40 787.50,668.00 859.10,650.10 930.70,616.10 930.70,638.60 859.10,672.20 787.50,691.10 715.80,727.30 572.60,780.30" fill="#ff0000" fill-opacity="0.2" stroke="#ff0000" stroke-opacity="0.2" stroke-width="1"/>
<polygon points="572.60,786.60 715.80,743.10 787.50,712.10 859.10,684.80 930.70,659.60 930.70,674.30 859.10,701.60 787.50,729.70 715.80,759.90 572.60,811.30" fill="#0000ff" fill-opacity="0.2" stroke="#0000ff" stroke-opacity="0.2" stroke-width="1"/>
<polygon points="572.60,802.90 715.80,756.70 787.50,734.70 859.10,707.90 930.70,674.30 930.70,701.60 859.10,722.80 787.50,753.60 715.80,776.70 572.60,827.10" fill="#008000" fill-opacity="0.2" stroke="#008000" stroke-opacity="0.2" stroke-width="1"/>
<polyline points="572.60,767.60 715.80,716.80 787.50,678.50 859.10,660.60 930.70,626.00" fill="none" stroke="#ff0000" stroke-opacity="0.8" stroke-width="2.1" stroke-linejoin="round"/>
<circle cx="572.60" cy="767.60" r="5.00" fill="#ff0000" fill-opacity="0.8" stroke="#ff0000" stroke-opacity="0.8" stroke-width="1.0"/>
<circle cx="715.80" cy="716.80" r="5.00" fill="#ff0000" fill-opacity="0.8" stroke="#ff0000" stroke-opacity="0.8" stroke-width="1.0"/>
<circle cx="787.50" cy="678.50" r="5.00" fill="#ff0000" fill-opacity="0.8" stroke="#ff0000" stroke-opacity="0.8" stroke-width="1.0"/>
<circle cx="859.10" cy="660.60" r="5.00" fill="#ff0000" fill-opacity="0.8" stroke="#ff0000" stroke-opacity="0.8" stroke-width="1.0"/>
<circle cx="930.70" cy="626.00" r="5.00" fill="#ff0000" fill-opacity="0.8" stroke="#ff0000" stroke-opacity="0.8" stroke-width="1.0"/>
<line x1="572.60" y1="768.81" x2="930.70" y2="627.90" stroke="#ff0000" stroke-opacity="0.8" stroke-width="2.1" stroke-dasharray="7.0 3.1"/>
<polyline points="572.60,798.70 715.80,751.50 787.50,720.30 859.10,692.10 930.70,665.90" fill="none" stroke="#0000ff" stroke-opacity="0.8" stroke-width="2.1" stroke-linejoin="round"/>
<polygon points="572.60,793.40 567.30,804.00 577.90,804.00" fill="#0000ff" fill-opacity="0.8" stroke="#0000ff" stroke-opacity="0.8" stroke-width="1.0" stroke-linejoin="miter"/>
<polygon points="715.80,746.20 710.50,756.80 721.10,756.80" fill="#0000ff" fill-opacity="0.8" stroke="#0000ff" stroke-opacity="0.8" stroke-width="1.0" stroke-linejoin="miter"/>
<polygon points="787.50,715.00 782.20,725.60 792.80,725.60" fill="#0000ff" fill-opacity="0.8" stroke="#0000ff" stroke-opacity="0.8" stroke-width="1.0" stroke-linejoin="miter"/>
<polygon points="859.10,686.80 853.80,697.40 864.40,697.40" fill="#0000ff" fill-opacity="0.8" stroke="#0000ff" stroke-opacity="0.8" stroke-width="1.0" stroke-linejoin="miter"/>
<polygon points="930.70,660.60 925.40,671.20 936.00,671.20" fill="#0000ff" fill-opacity="0.8" stroke="#0000ff" stroke-opacity="0.8" stroke-width="1.0" stroke-linejoin="miter"/>
<line x1="572.60" y1="800.99" x2="930.70" y2="666.54" stroke="#0000ff" stroke-opacity="0.8" stroke-width="2.1" stroke-dasharray="7.0 3.1"/>
<polyline points="572.60,816.60 715.80,768.30 787.50,742.80 859.10,715.20 930.70,686.90" fill="none" stroke="#008000" stroke-opacity="0.8" stroke-width="2.1" stroke-linejoin="round"/>
<rect x="567.60" y="811.60" width="10.00" height="10.00" fill="#008000" fill-opacity="0.8" stroke="#008000" stroke-opacity="0.8" stroke-width="1.0"/>
<rect x="710.80" y="763.30" width="10.00" height="10.00" fill="#008000" fill-opacity="0.8" stroke="#008000" stroke-opacity="0.8" stroke-width="1.0"/>
<rect x="782.50" y="737.80" width="10.00" height="10.00" fill="#008000" fill-opacity="0.8" stroke="#008000" stroke-opacity="0.8" stroke-width="1.0"/>
<rect x="854.10" y="710.20" width="10.00" height="10.00" fill="#008000" fill-opacity="0.8" stroke="#008000" stroke-opacity="0.8" stroke-width="1.0"/>
<rect x="925.70" y="681.90" width="10.00" height="10.00" fill="#008000" fill-opacity="0.8" stroke="#008000" stroke-opacity="0.8" stroke-width="1.0"/>
<line x1="572.60" y1="818.44" x2="930.70" y2="689.01" stroke="#008000" stroke-opacity="0.8" stroke-width="2.1" stroke-dasharray="7.0 3.1"/>
</g>
<rect x="554.5" y="606.5" width="394.1" height="231.0" fill="none" stroke="#cccccc" stroke-width="1"/>
<text x="613.40" y="853.80" font-size="17.7" text-anchor="middle" fill="#444444" style="fill:#444444">5</text>
<text x="716.70" y="853.80" font-size="17.7" text-anchor="middle" fill="#444444" style="fill:#444444">6</text>
<text x="820.10" y="853.80" font-size="17.7" text-anchor="middle" fill="#444444" style="fill:#444444">7</text>
<text x="923.40" y="853.80" font-size="17.7" text-anchor="middle" fill="#444444" style="fill:#444444">8</text>
<text x="551.80" y="784.15" font-size="17.7" text-anchor="end" style="fill:#444444" >4</text>
<text x="551.80" y="715.65" font-size="17.7" text-anchor="end" style="fill:#444444" >5</text>
<text x="551.80" y="647.15" font-size="17.7" text-anchor="end" style="fill:#444444" >6</text>
<line x1="567.90" y1="625.40" x2="600.40" y2="625.40" stroke="#ff0000" stroke-opacity="0.8" stroke-width="2.1"/>
<circle cx="584.15" cy="625.40" r="5.00" fill="#ff0000" fill-opacity="0.8" stroke="#ff0000" stroke-opacity="0.8" stroke-width="1.0"/>
<text x="612.00" y="630.90" font-size="15" style="fill:#444444" textLength="51.0" lengthAdjust="spacingAndGlyphs">m=0.59</text>
<line x1="567.90" y1="646.70" x2="600.40" y2="646.70" stroke="#0000ff" stroke-opacity="0.8" stroke-width="2.1"/>
<polygon points="584.15,641.40 578.85,652.00 589.45,652.00" fill="#0000ff" fill-opacity="0.8" stroke="#0000ff" stroke-opacity="0.8" stroke-width="1.0" stroke-linejoin="miter"/>
<text x="612.00" y="652.20" font-size="15" style="fill:#444444" textLength="51.0" lengthAdjust="spacingAndGlyphs">m=0.57</text>
<line x1="567.90" y1="668.20" x2="600.40" y2="668.20" stroke="#008000" stroke-opacity="0.8" stroke-width="2.1"/>
<rect x="579.15" y="663.20" width="10.00" height="10.00" fill="#008000" fill-opacity="0.8" stroke="#008000" stroke-opacity="0.8" stroke-width="1.0"/>
<text x="612.00" y="673.70" font-size="15" style="fill:#444444" textLength="51.0" lengthAdjust="spacingAndGlyphs">m=0.55</text>
<text x="0" y="0" font-size="25.5" text-anchor="middle" transform="translate(16.8 142.70) rotate(-90)">N=2</text>
<text x="0" y="0" font-size="25.5" text-anchor="middle" transform="translate(16.8 432.20) rotate(-90)">N=4</text>
<text x="0" y="0" font-size="25.5" text-anchor="middle" transform="translate(16.8 721.70) rotate(-90)">N=6</text>
<text x="751.5" y="21.9" font-size="24.6" text-anchor="middle" textLength="253.5" lengthAdjust="spacingAndGlyphs">log Total Expected Regret</text>
<text x="182" y="21.8" font-size="24.6" textLength="26.8" lengthAdjust="spacingAndGlyphs">log</text>
<line x1="217.5" y1="3.5" x2="217.5" y2="26.8" stroke="#262626" stroke-width="1.15"/>
<line x1="221.9" y1="3.5" x2="221.9" y2="26.8" stroke="#262626" stroke-width="1.15"/>
<line x1="322.0" y1="3.5" x2="322.0" y2="26.8" stroke="#262626" stroke-width="1.15"/>
<line x1="326.8" y1="3.5" x2="326.8" y2="26.8" stroke="#262626" stroke-width="1.15"/>
<text x="225.4" y="21.0" font-size="25.5" font-weight="bold">p</text>
<text x="241.2" y="13.0" font-size="17.5">(</text>
<text x="246.0" y="12.6" font-size="17.5" font-style="italic">T</text>
<text x="257.6" y="13.0" font-size="17.5">)</text>
<line x1="272.4" y1="15.5" x2="287.2" y2="15.5" stroke="#262626" stroke-width="1.2"/>
<text x="293.9" y="21.0" font-size="25.5" font-weight="bold">p</text>
<polygon points="313.50,5.30 314.53,8.48 317.87,8.48 315.16,10.44 316.20,13.62 313.50,11.65 310.80,13.62 311.84,10.44 309.13,8.48 312.47,8.48" fill="#262626"/>
<text x="330.4" y="24.9" font-size="16.8">2</text>
<text x="239.40" y="874.9" font-size="21">log</text>
<text x="269.60" y="874.9" font-size="21.3" font-style="italic">T</text>
<text x="731.40" y="874.9" font-size="21">log</text>
<text x="761.60" y="874.9" font-size="21.3" font-style="italic">T</text>
</svg></body></html>
